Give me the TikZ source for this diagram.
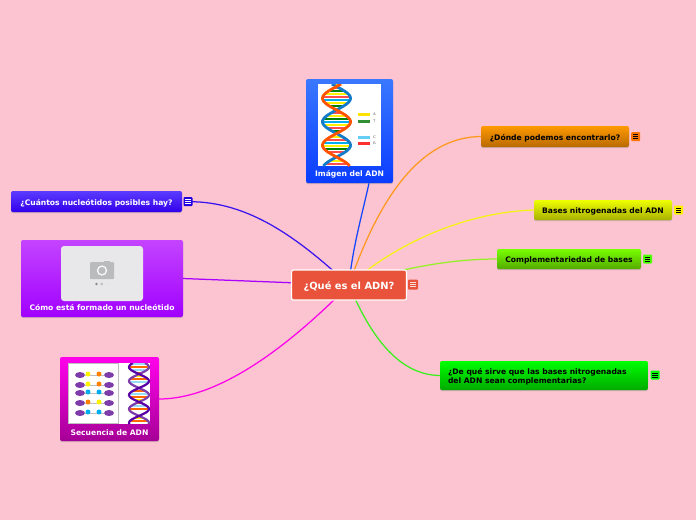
\documentclass[tikz,border=0pt]{standalone}
\usepackage{fontspec}
\setmainfont{DejaVu Sans}
\usetikzlibrary{arrows,positioning,shadows,backgrounds}

\definecolor{bgpink}{RGB}{251,196,208}
\definecolor{adnred}{RGB}{233,83,59}
\definecolor{camgray}{RGB}{186,187,189}
\definecolor{hexpurple}{RGB}{125,60,170}

\tikzset{
  mapbox/.style={
    rectangle,
    rounded corners = 2pt,
    drop shadow = {shadow xshift = 0pt, shadow yshift = -1.2pt, opacity = .35}
  },
  notebox/.style 2 args={
    rectangle,
    rounded corners = 1pt,
    minimum size = 9pt,
    inner sep = 0pt,
    fill = #1,
    path picture = {
      \foreach \dy in {-2,0,2}
        \draw[#2, line width = .8pt]
          ([xshift=-2.6pt,yshift=\dy pt]path picture bounding box.center) -- ++(5.2pt,0pt);
    }
  },
  lablight/.style={font=\fontsize{7.6}{9.5}\selectfont\bfseries, text=white, inner sep=0pt},
  labdark/.style={font=\fontsize{7.6}{9.5}\selectfont\bfseries, text=black, inner sep=0pt, align=left},
  branch/.style={line width=1.25pt}
}

\begin{document}
\begin{tikzpicture}[x=1pt,y=-1pt]
  \useasboundingbox (0,0) rectangle (696,520);

  % central topic
  \node[rectangle,
        draw = white,
        line width = 1.2pt,
        rounded corners = 2pt,
        fill = adnred,
        minimum width = 115pt,
        minimum height = 30pt
        ] (adn) at (349,285) {};
  \node[font=\fontsize{9.9}{11}\selectfont\bfseries, text=white] (adnlab) at ([yshift=-1.5pt]adn.center) {¿Qué es el ADN?};
  \node[notebox={adnred}{white!80!adnred}, minimum size = 10pt] (adnnote) at (413,284.5) {};

  % image topics
  \node[mapbox,
        top color = {rgb,255:red,58;green,120;blue,255},
        bottom color = {rgb,255:red,10;green,60;blue,255},
        minimum width = 87pt,
        minimum height = 104pt
        ] (imagen) at (349.5,131) {};
  \node[fill = white, minimum width = 63pt, minimum height = 82pt, inner sep = 0pt] (imagenpic) at (349.5,125) {};
  \node[lablight, above=4.5pt of imagen.south] (imagenlab) {Imágen del ADN};

  \node[mapbox,
        top color = {rgb,255:red,196;green,68;blue,255},
        bottom color = {rgb,255:red,160;green,0;blue,255},
        minimum width = 162pt,
        minimum height = 77pt
        ] (como) at (102,278.5) {};
  \node[fill = {rgb,255:red,232;green,232;blue,234}, rounded corners = 3pt,
        minimum width = 82pt, minimum height = 55pt, inner sep = 0pt] (comopic) at (102,273.5) {};
  \node[lablight, above=6pt of como.south] (comolab) {Cómo está formado un nucleótido};

  \node[mapbox,
        top color = {rgb,255:red,255;green,0;blue,235},
        bottom color = {rgb,255:red,165;green,0;blue,150},
        minimum width = 99pt,
        minimum height = 84pt
        ] (secuencia) at (109.5,399) {};
  \node[fill = white, minimum width = 82pt, minimum height = 61pt, inner sep = 0pt] (secuenciapic) at (109,393.5) {};
  \node[lablight, above=5.5pt of secuencia.south] (secuencialab) {Secuencia de ADN};

  % text topics
  \node[mapbox,
        top color = {rgb,255:red,92;green,60;blue,255},
        bottom color = {rgb,255:red,50;green,0;blue,235},
        minimum width = 171pt,
        minimum height = 21pt
        ] (cuantos) at (96.5,201.5) {};
  \node[lablight] (cuantoslab) at ([yshift=-1.5pt]cuantos.center) {¿Cuántos nucleótidos posibles hay?};
  \node[notebox={blue!75!violet}{white}] (cuantosnote) at (188,201.7) {};

  \node[mapbox,
        top color = {rgb,255:red,255;green,153;blue,0},
        bottom color = {rgb,255:red,184;green,106;blue,0},
        minimum width = 148pt,
        minimum height = 21pt
        ] (donde) at (555,136.5) {};
  \node[labdark] (dondelab) at ([yshift=-1.5pt]donde.center) {¿Dónde podemos encontrarlo?};
  \node[notebox={orange!90!red}{black}] (dondenote) at (635.7,136.7) {};

  \node[mapbox,
        top color = {rgb,255:red,238;green,255;blue,0},
        bottom color = {rgb,255:red,168;green,176;blue,0},
        minimum width = 138pt,
        minimum height = 20pt
        ] (bases) at (603,210) {};
  \node[labdark] (baseslab) at ([yshift=-1.5pt]bases.center) {Bases nitrogenadas del ADN};
  \node[notebox={yellow}{black}] (basesnote) at (678.7,210) {};

  \node[mapbox,
        top color = {rgb,255:red,119;green,255;blue,0},
        bottom color = {rgb,255:red,85;green,170;blue,0},
        minimum width = 144pt,
        minimum height = 20pt
        ] (compl) at (569,259) {};
  \node[labdark] (compllab) at ([yshift=-1.5pt]compl.center) {Complementariedad de bases};
  \node[notebox={green!70!yellow}{black}] (complnote) at (647.7,259) {};

  \node[mapbox,
        top color = {rgb,255:red,0;green,255;blue,0},
        bottom color = {rgb,255:red,0;green,170;blue,0},
        minimum width = 208pt,
        minimum height = 29pt
        ] (sirve) at (544,375.5) {};
  \node[labdark, anchor=west] (sirvelab) at ([xshift=8pt,yshift=-1pt]sirve.west) {¿De qué sirve que las bases nitrogenadas\\del ADN sean complementarias?};
  \node[notebox={green}{black}] (sirvenote) at (655,375) {};

  % helix of the first picture
  \begin{scope}
    \clip (318,84) rectangle (381,166);
    \foreach \yy/\rung in {85/yellow,88/red!70,91/green!50!black,94/yellow,97/red!70,100/cyan,103/yellow,106/green!50!black,113/red!70,116/yellow,119/green!50!black,122/cyan,125/yellow,128/red!70,131/green!50!black,137/yellow,140/red!70,143/cyan,146/yellow,149/green!50!black,152/red!70,161/yellow,164/red!70}
      \draw[line width = 1.6pt, color = \rung]
        ({336.5+13*sin(7.66*(\yy-110))},\yy) -- ({336.5-13*sin(7.66*(\yy-110))},\yy);
    \draw[cyan!60!blue, line width = 2.8pt, domain=84:166, samples=70]
      plot ({336.5-14*sin(7.66*(\x-110))},\x);
    \draw[orange!65!red, line width = 2.8pt, domain=84:166, samples=70]
      plot ({336.5+14*sin(7.66*(\x-110))},\x);
  \end{scope}
  \fill[yellow!85!orange] (358,112.8) rectangle (370,115.8);
  \fill[green!45!black!80] (358,120) rectangle (370,123);
  \fill[cyan!60!white] (358,135.5) rectangle (370,138.8);
  \fill[red!75!pink] (358,142) rectangle (370,145);
  \foreach \yy/\letra in {114.3/A,121.5/T,137/C,143.5/G}
    \node[font=\fontsize{3.4}{3.4}\selectfont, text=black!70, inner sep=0pt] (leg\letra) at (374.5,\yy) {\letra};

  % camera icon
  \fill[camgray, rounded corners = 1pt] (90,262) rectangle (114,279);
  \fill[camgray] (104,260.5) rectangle (110,263);
  \fill[white!90!camgray] (102,270.5) circle (5.2pt);
  \fill[camgray] (102,270.5) circle (3.6pt);
  \fill[black!45] (96.5,284) circle (1.4pt);
  \fill[black!28] (101.7,284) circle (1.4pt);
  \fill[black!10] (107,284) circle (1.4pt);

  % second picture: base pairs and helix
  \draw[black!25, line width = .4pt] (68.5,363.5) rectangle (118.5,423.5);
  \foreach \yy/\cola/\colb in {375/yellow/orange,385/yellow/orange,393/cyan/cyan,403/orange/yellow,413/cyan/cyan} {
    \fill[hexpurple] (80,\yy) ellipse [x radius=5pt, y radius=3pt];
    \fill[hexpurple] (109,\yy) ellipse [x radius=5pt, y radius=3pt];
    \draw[black!25, line width = .3pt] (85,\yy) -- (104,\yy);
    \fill[\cola] (88,\yy-1) circle (2.5pt);
    \fill[\colb] (99,\yy-1) circle (2.5pt);
  }
  \begin{scope}
    \clip (127,363) rectangle (150,424);
    \foreach \yy/\rung in {364/white!60!cyan,367/orange!80!red,370/white!60!cyan,373/orange!80!red,376/yellow,379/orange!80!red,382/white!60!cyan,391/orange!80!red,394/white!60!cyan,397/orange!80!red,400/yellow,403/orange!80!red,406/white!60!cyan,409/orange!80!red,418/yellow,421/orange!80!red}
      \draw[line width = 1.2pt, color = \rung]
        ({139+9*sin(12.9*(\yy-388))},\yy) -- ({139-9*sin(12.9*(\yy-388))},\yy);
    \draw[hexpurple, line width = 2.2pt, domain=363:424, samples=50]
      plot ({139+10*sin(12.9*(\x-388))},\x);
    \draw[violet!70!blue, line width = 2.2pt, domain=363:424, samples=50]
      plot ({139-10*sin(12.9*(\x-388))},\x);
  \end{scope}

  \begin{pgfonlayer}{background}
    \fill[bgpink] (0,0) rectangle (696,520);
    % left side
    \draw[branch, color = {rgb,255:red,170;green,0;blue,255}]
      (adn.center) -- (como.east);
    \draw[branch, color = {rgb,255:red,60;green,20;blue,240}]
      (adn.center) .. controls (300,240) and (250,201) .. (cuantosnote.center);
    \draw[branch, color = {rgb,255:red,255;green,0;blue,235}]
      (adn.center) .. controls (290,345) and (220,399) .. (secuencia.east);
    % right side
    \draw[branch, color = {rgb,255:red,20;green,70;blue,255}]
      (adn.center) .. controls (352,250) and (362,215) .. ([xshift=19.5pt]imagen.south);
    \draw[branch, color = {rgb,255:red,255;green,153;blue,30}]
      (adn.center) .. controls (385,180) and (430,137) .. (donde.west);
    \draw[branch, color = {rgb,255:red,245;green,245;blue,20}]
      (adn.center) .. controls (400,240) and (470,212) .. (bases.west);
    \draw[branch, color = {rgb,255:red,150;green,240;blue,40}]
      (adn.center) .. controls (410,265) and (460,259) .. (compl.west);
    \draw[branch, color = {rgb,255:red,60;green,240;blue,30}]
      (adn.center) .. controls (370,335) and (398,375) .. (sirve.west);
  \end{pgfonlayer}

\end{tikzpicture}
\end{document}
